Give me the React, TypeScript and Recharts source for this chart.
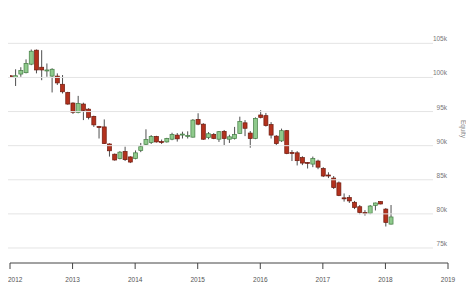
import React from "react";
import { ComposedChart, Bar, XAxis, YAxis } from "recharts";

// monthly candles, Jan 2012 .. Feb 2018
const months = [
  "2012-01", "2012-02", "2012-03", "2012-04", "2012-05", "2012-06", "2012-07", "2012-08", "2012-09", "2012-10", "2012-11", "2012-12",
  "2013-01", "2013-02", "2013-03", "2013-04", "2013-05", "2013-06", "2013-07", "2013-08", "2013-09", "2013-10", "2013-11", "2013-12",
  "2014-01", "2014-02", "2014-03", "2014-04", "2014-05", "2014-06", "2014-07", "2014-08", "2014-09", "2014-10", "2014-11", "2014-12",
  "2015-01", "2015-02", "2015-03", "2015-04", "2015-05", "2015-06", "2015-07", "2015-08", "2015-09", "2015-10", "2015-11", "2015-12",
  "2016-01", "2016-02", "2016-03", "2016-04", "2016-05", "2016-06", "2016-07", "2016-08", "2016-09", "2016-10", "2016-11", "2016-12",
  "2017-01", "2017-02", "2017-03", "2017-04", "2017-05", "2017-06", "2017-07", "2017-08", "2017-09", "2017-10", "2017-11", "2017-12",
  "2018-01", "2018-02",
];

const open = [
  100250, 100000, 100500, 100700, 101950, 104000, 101500, 101000, 100200, 100200, 99000, 97800,
  96250, 94850, 96100, 95350, 94300, 92800, 92750, 90250, 88750, 88100, 89150, 88350,
  88100, 89300, 90200, 90450, 91350, 90600, 90550, 90950, 91550, 91600, 91450, 91250,
  93850, 93150, 91200, 91650, 90950, 92100, 90950, 91050, 91800, 93350, 91850, 91050,
  94500, 94400, 93100, 91400, 90700, 92200, 89000, 88950, 88250, 87550, 87300, 87750,
  86650, 85700, 85250, 84550, 82350, 82400, 81700, 81050, 80200, 80100, 81250, 81800,
  80700, 78500,
];

const close = [
  100200, 100250, 101000, 102050, 103850, 101100, 101100, 101100, 101200, 99200, 97900, 96100,
  94900, 96200, 95150, 94150, 93050, 92750, 90300, 89250, 87900, 89050, 87950, 87600,
  88950, 89850, 90900, 91350, 90550, 90550, 91050, 91650, 91000, 91700, 91500, 93750,
  93150, 90950, 91750, 91050, 92050, 91050, 91300, 91650, 93550, 92550, 91050, 94000,
  94150, 92950, 91550, 90300, 92200, 88850, 88950, 87800, 87450, 87500, 88100, 86850,
  85550, 85650, 83850, 82700, 82300, 81900, 80950, 80200, 80150, 81150, 81600, 81450,
  78750, 79550,
];

const high = [
  100300, 101200, 101500, 102650, 104100, 104100, 104000, 102050, 101350, 100600, 100350, 97900,
  96350, 97300, 96300, 95500, 94400, 92900, 93850, 90350, 88850, 89200, 89850, 88450,
  89300, 90400, 92400, 91550, 91450, 90900, 91150, 91900, 91850, 92050, 92100, 93900,
  94750, 93300, 92000, 91850, 92150, 92300, 91600, 92750, 94250, 93750, 92150, 94150,
  95200, 94800, 93450, 91550, 92500, 92300, 89350, 89200, 88450, 87600, 88400, 87950,
  86850, 86100, 85550, 84750, 83000, 82750, 81900, 81300, 80550, 81300, 81650, 81850,
  80850, 81300,
];

const low = [
  100150, 98750, 100100, 100600, 101800, 100600, 99600, 100100, 97800, 98900, 97650, 96000,
  94650, 94750, 93750, 93850, 92750, 91050, 90250, 88400, 87800, 88000, 87750, 87450,
  88000, 89050, 90100, 90250, 90450, 90250, 90450, 90800, 90600, 91050, 91050, 91200,
  93000, 90850, 90950, 90950, 90550, 90100, 90400, 90900, 91750, 91400, 89700, 90950,
  94000, 92800, 91050, 90100, 90550, 88750, 87750, 87100, 87150, 86650, 86850, 86550,
  85400, 85250, 83650, 82600, 81800, 81600, 80700, 79950, 79750, 79950, 80500, 81400,
  78150, 78450,
];

const yearTicks = [2012, 2013, 2014, 2015, 2016, 2017, 2018, 2019];
const equityTicks = [75000, 80000, 85000, 90000, 95000, 100000, 105000];

const FONT = "'Liberation Sans', Arial, Helvetica, sans-serif";
const UP_FILL = "#8fca8c";
const UP_STROKE = "#447d44";
const DOWN_FILL = "#b3311d";
const DOWN_STROKE = "#6e1b0f";
const WICK = "#4f4f4f";

const data = months.map((m, i) => {
  const [yr, mo] = m.split("-").map(Number);
  return {
    t: yr + (mo - 1) / 12,
    open: open[i],
    close: close[i],
    high: high[i],
    low: low[i],
    range: [low[i], high[i]],
  };
});

const Candle = (props: any) => {
  const { x, y, width, height, payload } = props;
  if (x == null || y == null || !payload) return null;
  const span = payload.high - payload.low;
  const top = Math.min(y, y + height);
  const h = Math.abs(height);
  const yOf = (v: number) => (span > 0 ? top + ((payload.high - v) / span) * h : top);
  const cx = x + width / 2;
  const up = payload.close >= payload.open;
  const bTop = yOf(Math.max(payload.open, payload.close));
  const bBot = yOf(Math.min(payload.open, payload.close));
  return (
    <g>
      <line x1={cx} x2={cx} y1={top} y2={top + h} stroke={WICK} strokeWidth={1} />
      <rect
        x={cx - 2}
        y={bTop}
        width={4}
        height={Math.max(bBot - bTop, 1)}
        fill={up ? UP_FILL : DOWN_FILL}
        stroke={up ? UP_STROKE : DOWN_STROKE}
        strokeWidth={0.7}
      />
    </g>
  );
};

const XTick = (props: any) => {
  const { x, y, payload, index } = props;
  const first = index === 0;
  return (
    <text
      x={first ? x - 2 : x}
      y={y}
      dy="0.71em"
      textAnchor={first ? "start" : "middle"}
      fontSize={6.5}
      fontFamily={FONT}
      fill="#555"
    >
      {payload.value}
    </text>
  );
};

// grid line plus its label, which sits just above the line at the right edge
const YTick = (props: any) => {
  const { y, payload } = props;
  return (
    <g>
      <line x1={0} x2={425} y1={y} y2={y} stroke="#e4e4e4" strokeWidth={1} />
      <text x={439} y={y - 2} textAnchor="end" fontSize={6.5} fontFamily={FONT} fill="#777">
        {payload.value / 1000}k
      </text>
    </g>
  );
};

const EquityLabel = (props: any) => {
  const vb = props.viewBox || { x: 440, y: 5, width: 26, height: 250 };
  const cx = vb.x + 13;
  const cy = vb.y + vb.height / 2 - 9;
  return (
    <text
      x={cx}
      y={cy}
      transform={`rotate(90 ${cx} ${cy})`}
      textAnchor="middle"
      fontSize={6.5}
      fontFamily={FONT}
      fill="#888"
    >
      Equity
    </text>
  );
};

export default function App() {
  return (
    <ComposedChart width={466} height={286} data={data} margin={{ top: 5, right: 0, bottom: 0, left: 2 }}>
      <YAxis
        orientation="right"
        type="number"
        domain={[72800, 109450]}
        ticks={equityTicks}
        allowDataOverflow
        width={26}
        axisLine={false}
        tickLine={false}
        tick={(p: any) => <YTick {...p} />}
        interval={0}
        label={(p: any) => <EquityLabel {...p} />}
      />
      <XAxis
        dataKey="t"
        type="number"
        domain={[2012, 2019]}
        ticks={yearTicks}
        allowDataOverflow
        height={31}
        axisLine={{ stroke: "#444" }}
        tickLine={{ stroke: "#444" }}
        tickSize={6}
        tickMargin={8}
        tick={(p: any) => <XTick {...p} />}
        interval={0}
      />
      <Bar dataKey="range" barSize={4} shape={(p: any) => <Candle {...p} />} isAnimationActive={false} />
    </ComposedChart>
  );
}
